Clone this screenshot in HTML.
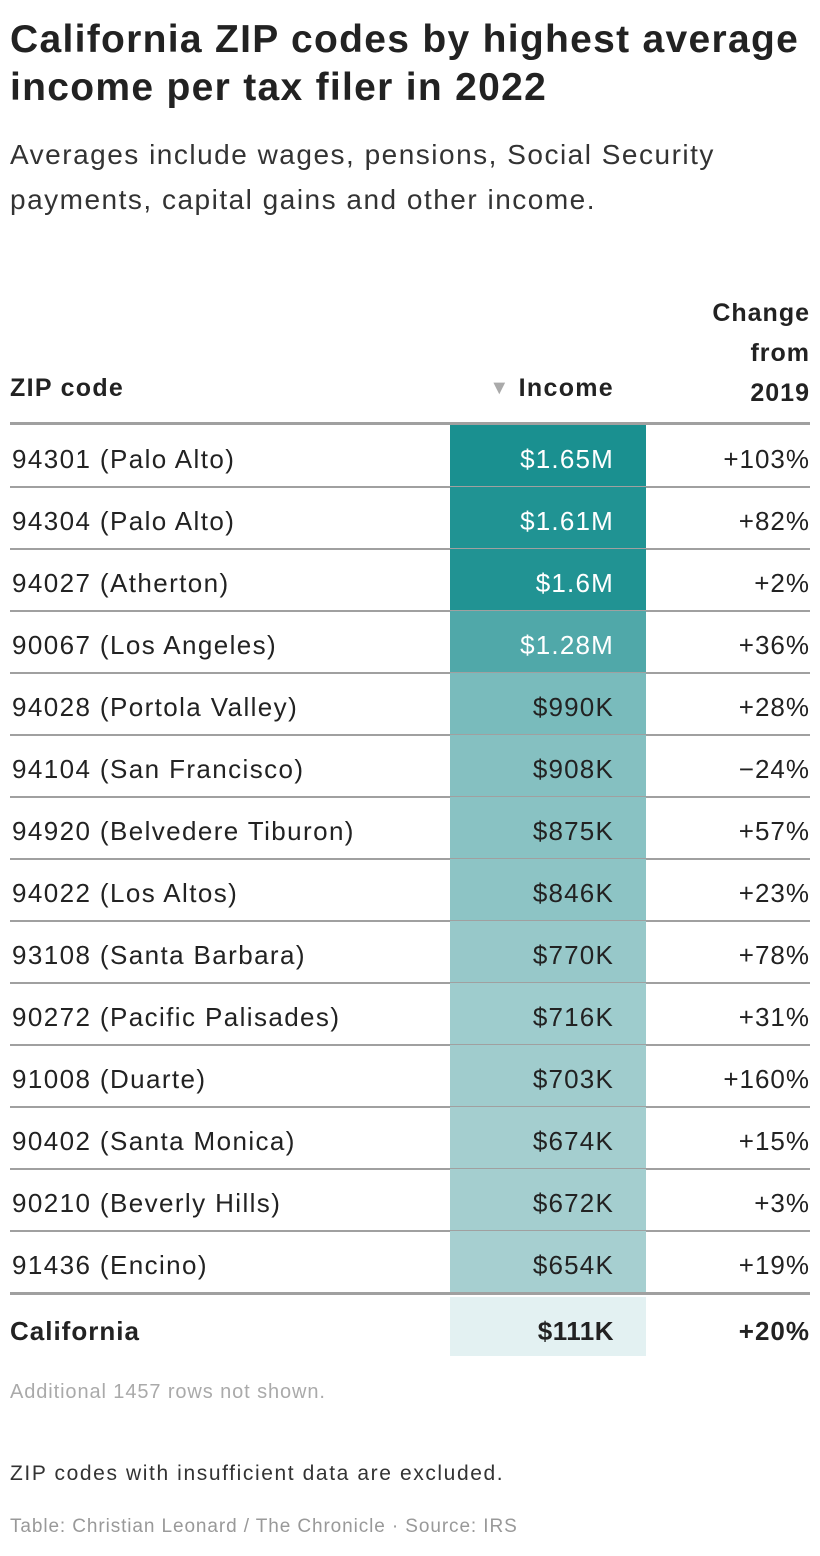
<!DOCTYPE html>
<html><head><meta charset="utf-8"><style>
body{margin:0;background:#fff;width:820px;height:1556px;overflow:hidden;font-family:"Liberation Sans",sans-serif;color:#222;position:relative}
.abs{position:absolute}
h1{position:absolute;left:10px;top:16px;margin:0;font-size:39px;line-height:48px;font-weight:bold;color:#222;letter-spacing:1.3px}
.sub{left:10px;top:132px;font-size:28px;line-height:45px;color:#333;letter-spacing:1.5px}
.hd{font-size:25px;font-weight:bold;color:#222;letter-spacing:1.3px}
.row{position:absolute;left:10px;width:800px;height:62px;font-size:26px;line-height:62px;letter-spacing:1.4px}
.zip{position:absolute;left:2px;top:3px}
.inc{position:absolute;left:440px;width:196px;height:62px;text-align:right;box-sizing:border-box;padding-right:32px;letter-spacing:1.2px;padding-top:3px}
.chg{position:absolute;right:0;top:3px;letter-spacing:1px}
.line{position:absolute;left:10px;width:800px;background:#a0a0a0}
</style></head><body>
<h1>California ZIP codes by highest average<br>income per tax filer in 2022</h1>
<div class="abs sub">Averages include wages, pensions, Social Security<br>payments, capital gains and other income.</div>
<div class="abs hd" style="left:10px;top:374px">ZIP code</div>
<div class="abs hd" style="right:206px;top:374px"><span style="color:#aaa;font-size:20px;position:relative;top:-2px">▼</span> Income</div>
<div class="abs hd" style="right:10px;top:293px;text-align:right;line-height:40px;letter-spacing:1px">Change<br>from<br>2019</div>
<div class="line" style="top:422px;height:3px"></div>
<div id="rows"></div>
<div class="line" style="top:1292px;height:3px"></div>
<div class="row" style="top:1297px;font-weight:bold">
<span class="zip" style="left:0;letter-spacing:1px">California</span>
<span class="inc" style="background:#e3f1f2;height:59px;letter-spacing:0.5px">$111K</span>
<span class="chg">+20%</span></div>
<div class="abs" style="left:10px;top:1381px;font-size:20px;color:#aaa;letter-spacing:0.9px">Additional 1457 rows not shown.</div>
<div class="abs" style="left:10px;top:1462px;font-size:21px;color:#333;letter-spacing:1.6px">ZIP codes with insufficient data are excluded.</div>
<div class="abs" style="left:10px;top:1516px;font-size:19px;color:#999;letter-spacing:0.9px">Table: Christian Leonard / The Chronicle · Source: IRS</div>
<script>
const zips=["94301 (Palo Alto)","94304 (Palo Alto)","94027 (Atherton)","90067 (Los Angeles)","94028 (Portola Valley)","94104 (San Francisco)","94920 (Belvedere Tiburon)","94022 (Los Altos)","93108 (Santa Barbara)","90272 (Pacific Palisades)","91008 (Duarte)","90402 (Santa Monica)","90210 (Beverly Hills)","91436 (Encino)"];
const incomes=[1650,1610,1600,1280,990,908,875,846,770,716,703,674,672,654];
const incomeLabels=["$1.65M","$1.61M","$1.6M","$1.28M","$990K","$908K","$875K","$846K","$770K","$716K","$703K","$674K","$672K","$654K"];
const changes=["+103%","+82%","+2%","+36%","+28%","−24%","+57%","+23%","+78%","+31%","+160%","+15%","+3%","+19%"];
function color(v){
  const t=Math.max(0,Math.min(1,(v-654)/(1650-654)));
  const a=[166,207,208],b=[26,144,144];
  return 'rgb('+a.map((c,i)=>Math.round(c+(b[i]-c)*Math.pow(t,1.05))).join(',')+')';
}
const host=document.getElementById('rows');
zips.forEach((z,i)=>{
  const r=document.createElement('div');
  
  
  r.className='row';r.style.top=(425+i*62)+'px';
  const dark=incomes[i]>=1200;
  r.innerHTML='<span class="zip">'+z+'</span><span class="inc" style="background:'+color(incomes[i])+';color:'+(dark?'#fff':'#222')+'">'+incomeLabels[i]+'</span><span class="chg">'+changes[i]+'</span>';
  host.appendChild(r);
  if(i<zips.length-1){
    const l=document.createElement('div');
    
    
    l.className='line';l.style.top=(486+i*62)+'px';l.style.height='2px';
    host.appendChild(l);
  }
});
</script>
</body></html>
